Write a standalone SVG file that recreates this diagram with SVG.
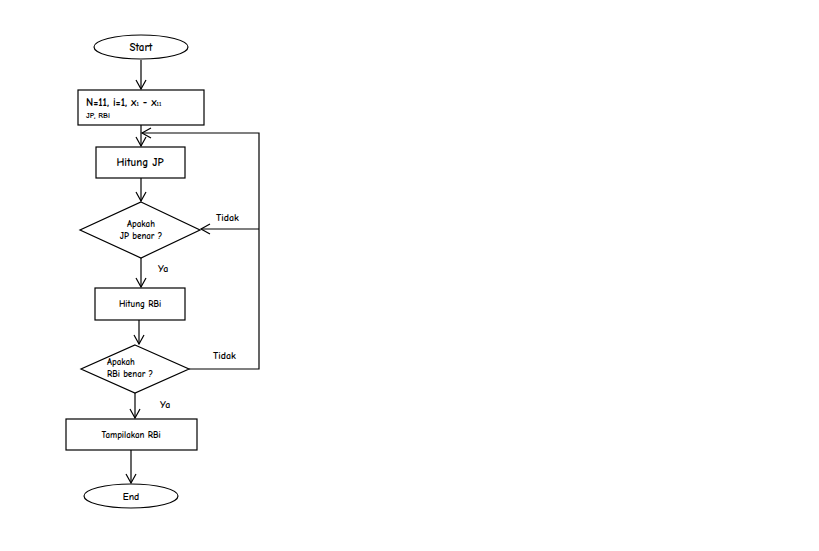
<svg xmlns="http://www.w3.org/2000/svg" width="819" height="551" viewBox="0 0 819 551">
<defs><marker id="a" markerWidth="12" markerHeight="12" refX="10" refY="6" orient="auto" markerUnits="userSpaceOnUse"><path d="M1,1 L10,6 L1,11" fill="none" stroke="#000" stroke-width="1.2"/></marker></defs>
<style>.s{fill:#fff;stroke:#000;stroke-width:1.2}.l{fill:none;stroke:#000;stroke-width:1.2}text{font-family:"Comic Neue","Liberation Sans",sans-serif;font-weight:bold;fill:#000}</style>
<rect width="819" height="551" fill="#fff"/>
<g id="connectors" class="l">
<path d="M141,60 V89" marker-end="url(#a)"/>
<path d="M141,125 V146" marker-end="url(#a)"/>
<path d="M259,229 V133 H142" marker-end="url(#a)"/>
<path d="M141,178 V201" marker-end="url(#a)"/>
<path d="M259,229 H201" marker-end="url(#a)"/>
<path d="M141,258 V287" marker-end="url(#a)"/>
<path d="M139,320 V344" marker-end="url(#a)"/>
<path d="M189,369 H259 V229"/>
<path d="M135,393 V418" marker-end="url(#a)"/>
<path d="M131,450 V483" marker-end="url(#a)"/>
</g>
<g id="start"><ellipse class="s" cx="141" cy="47" rx="47" ry="12"/><text x="141" y="51" font-size="11" text-anchor="middle">Start</text></g>
<g id="init"><rect class="s" x="78" y="90" width="126" height="35"/><text x="86" y="106" font-size="11">N=11, i=1, x<tspan font-size="6">1</tspan> - x<tspan font-size="6">11</tspan></text><text x="86" y="118" font-size="8">JP, RBi</text></g>
<g id="hitungjp"><rect class="s" x="96" y="147" width="89" height="31"/><text x="140" y="166" font-size="11" text-anchor="middle">Hitung JP</text></g>
<g id="djp"><polygon class="s" points="141,202 200,230 141,258 80,230"/><text x="141" y="227" font-size="9" text-anchor="middle">Apakah</text><text x="141" y="239" font-size="9" text-anchor="middle">JP benar ?</text></g>
<text x="216" y="221" font-size="10">Tidak</text>
<text x="158" y="272" font-size="10">Ya</text>
<g id="hitungrbi"><rect class="s" x="95" y="288" width="90" height="32"/><text x="140" y="307" font-size="9" text-anchor="middle">Hitung RBi</text></g>
<g id="drbi"><polygon class="s" points="135,345 189,369 135,393 81,369"/><text x="107" y="365" font-size="9">Apakah</text><text x="107" y="377" font-size="9">RBi benar ?</text></g>
<text x="213" y="359" font-size="10">Tidak</text>
<text x="160" y="408" font-size="10">Ya</text>
<g id="tampil"><rect class="s" x="66" y="419" width="131" height="31"/><text x="131" y="438" font-size="9" text-anchor="middle">Tampilakan RBi</text></g>
<g id="end"><ellipse class="s" cx="131" cy="496" rx="47" ry="12"/><text x="131" y="500" font-size="10" text-anchor="middle">End</text></g>
</svg>
